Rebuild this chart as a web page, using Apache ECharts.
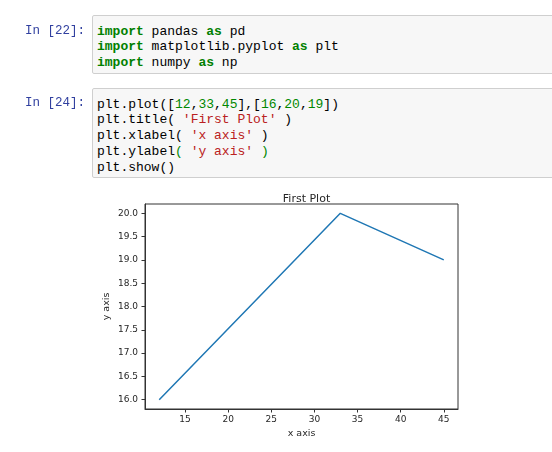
<!DOCTYPE html>
<html>
<head>
<meta charset="utf-8">
<script src="https://cdn.jsdelivr.net/npm/echarts@6/dist/echarts.min.js"></script>
<style>
  html, body { margin: 0; padding: 0; background: #fff; }
  #page { position: relative; width: 552px; height: 452px; overflow: hidden; }
  #chart { position: absolute; left: 0; top: 0; width: 552px; height: 452px; }
  .prompt {
    position: absolute; left: 0; width: 85px; text-align: right;
    font-family: "Liberation Mono", monospace; font-size: 12.5px; line-height: 15.85px;
    color: #303F9F; z-index: 2;
  }
  .box {
    position: absolute; left: 92px; width: 480px; box-sizing: border-box;
    background: #f7f7f7; border: 1px solid #cfcfcf; border-radius: 2px; z-index: 2;
  }
  .box pre {
    margin: 0; padding: 7.5px 0 0 4px;
    font-family: "Liberation Mono", monospace; font-size: 13px; line-height: 15.85px; color: #000;
  }
  .kw { color: #008000; font-weight: bold; }
  .nb { color: #008800; }
  .st { color: #BA2121; }
  .gp { color: #008800; }
</style>
</head>
<body>
<div id="page">
  <div id="chart"></div>

  <div class="prompt" style="top:23.5px">In [22]:</div>
  <div class="box" style="top:15px;height:59px">
<pre><span class="kw">import</span> pandas <span class="kw">as</span> pd
<span class="kw">import</span> matplotlib.pyplot <span class="kw">as</span> plt
<span class="kw">import</span> numpy <span class="kw">as</span> np</pre>
  </div>

  <div class="prompt" style="top:96px">In [24]:</div>
  <div class="box" style="top:88px;height:90px">
<pre>plt.plot([<span class="nb">12</span>,<span class="nb">33</span>,<span class="nb">45</span>],[<span class="nb">16</span>,<span class="nb">20</span>,<span class="nb">19</span>])
plt.title( <span class="st">'First Plot'</span> )
plt.xlabel( <span class="st">'x axis'</span> )
plt.ylabel<span class="gp">(</span> <span class="st">'y axis'</span> <span class="gp">)</span>
plt.show()</pre>
  </div>
</div>

<script>
// plt.plot([12,33,45],[16,20,19])
var xData = [12, 33, 45]
var yData = [16, 20, 19]
var xTicks = [15, 20, 25, 30, 35, 40, 45]
var yTicks = [16.0, 16.5, 17.0, 17.5, 18.0, 18.5, 19.0, 19.5, 20.0]

var textColor = '#262626'
var fontFam = 'DejaVu Sans'

var option = {
  animation: false,
  title: {
    text: 'First Plot',
    left: 301.5,
    top: 188.5,
    textAlign: 'center',
    textStyle: { fontFamily: fontFam, fontSize: 11, fontWeight: 'normal', color: textColor }
  },
  grid: {
    left: 145, top: 204, width: 313, height: 205,
    show: true, borderColor: '#333', borderWidth: 1, backgroundColor: 'transparent'
  },
  xAxis: {
    type: 'value',
    min: 10.35,
    max: 46.65,
    name: 'x axis',
    nameLocation: 'middle',
    nameGap: 20,
    nameMoveOverlap: false,
    nameTextStyle: { fontFamily: fontFam, fontSize: 9.5, color: textColor },
    axisLine: { show: true, onZero: false, lineStyle: { color: '#333', width: 1 } },
    axisTick: { show: true, length: 3.5, customValues: xTicks, lineStyle: { color: '#333' } },
    axisLabel: {
      customValues: xTicks, margin: 6,
      fontFamily: fontFam, fontSize: 9, color: textColor
    },
    splitLine: { show: false }
  },
  yAxis: {
    type: 'value',
    min: 15.8,
    max: 20.2,
    name: 'y axis',
    nameLocation: 'middle',
    nameGap: 33,
    nameMoveOverlap: false,
    nameTextStyle: { fontFamily: fontFam, fontSize: 9.5, color: textColor },
    axisLine: { show: true, onZero: false, lineStyle: { color: '#333', width: 1 } },
    axisTick: { show: true, length: 3.5, customValues: yTicks, lineStyle: { color: '#333' } },
    axisLabel: {
      customValues: yTicks, margin: 7,
      fontFamily: fontFam, fontSize: 9, color: textColor,
      formatter: function (v) { return v.toFixed(1) }
    },
    splitLine: { show: false }
  },
  series: [
    {
      type: 'line',
      data: xData.map(function (x, i) { return [x, yData[i]] }),
      showSymbol: false,
      lineStyle: { color: '#1f77b4', width: 1.5 }
    }
  ]
}

var myChart = echarts.init(document.getElementById('chart'))
myChart.setOption(option)
</script>
</body>
</html>
